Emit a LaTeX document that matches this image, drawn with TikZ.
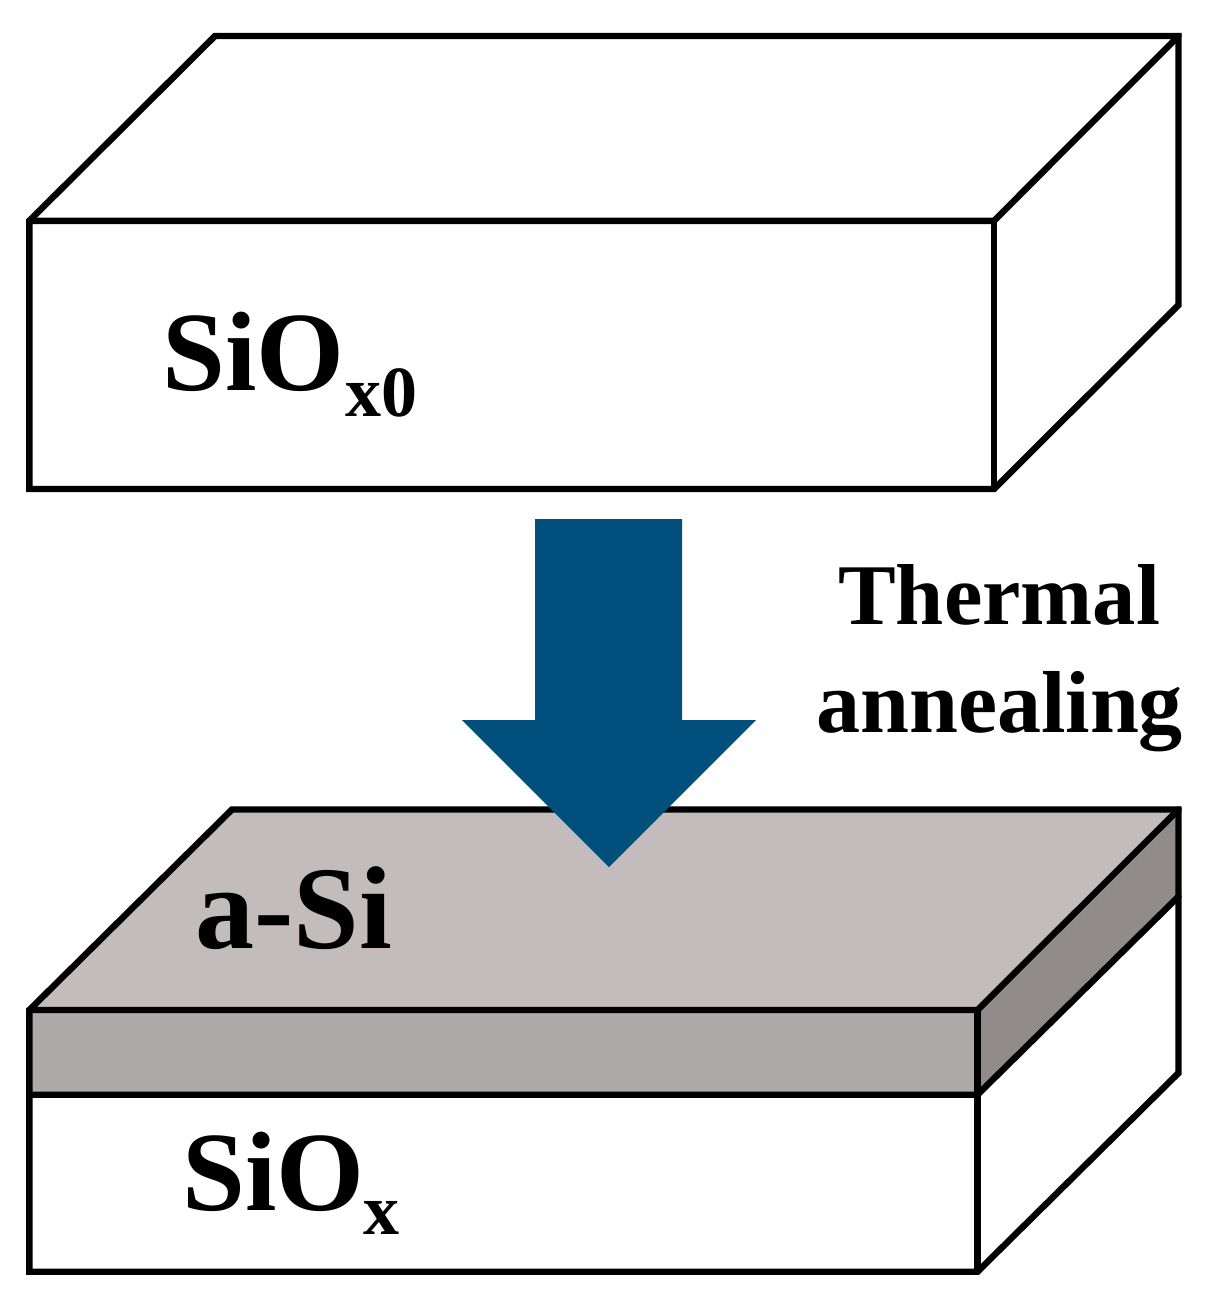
\documentclass[tikz,border=0pt]{standalone}
\usepackage{fontspec}
\setmainfont{Liberation Serif}
\begin{document}
\begin{tikzpicture}[x=1pt,y=-1pt,
  edge/.style={draw=black,line width=6.4pt,line join=miter},
  inner/.style={draw=black,line width=6.4pt,line cap=round},
  lab/.style={font=\bfseries\fontsize{#1}{#1}\selectfont,inner sep=0pt,anchor=base west}]
\useasboundingbox[fill=white] (0,0) rectangle (1222,1306);
% top block
\draw[edge,fill=white] (29.3,220.8) -- (215,36) -- (1178.5,36) -- (1178.5,305) -- (994,489) -- (29.3,489) -- cycle;
\draw[inner] (29.3,220.8) -- (994,220.8) -- (1178.5,36);
\draw[inner] (994,220.8) -- (994,489);
% a-Si faces
\fill[fill={rgb,255:red,194;green,188;blue,188}] (29.3,1010) -- (232,809.5) -- (1178.5,809.5) -- (977.5,1010) -- cycle;
\fill[fill={rgb,255:red,175;green,170;blue,170}] (29.3,1010) -- (977.5,1010) -- (977.5,1094.7) -- (29.3,1094.7) -- cycle;
\fill[fill={rgb,255:red,145;green,139;blue,139}] (977.5,1010) -- (1178.5,809.5) -- (1178.5,896.5) -- (977.5,1094.7) -- cycle;
% outline and inner edges
\draw[edge] (29.3,1010) -- (232,809.5) -- (1178.5,809.5) -- (1178.5,1073) -- (977.5,1271.7) -- (29.3,1271.7) -- cycle;
\draw[inner] (29.3,1010) -- (977.5,1010) -- (1178.5,809.5);
\draw[inner] (29.3,1094.7) -- (977.5,1094.7) -- (1178.5,896.5);
\draw[inner] (977.5,1010) -- (977.5,1271.7);
% arrow
\fill[fill={rgb,255:red,0;green,79;blue,124}] (535,519) -- (682,519) -- (682,720) -- (756,720) -- (609,867) -- (462,720) -- (535,720) -- cycle;
% labels
\node[lab=113] (s0) at (162,390.5) {SiO};
\node[lab=72] (s0s) at (345,416) {x0};
\node[lab=118] (asi) at (195,948) {a-Si};
\node[lab=113] (s1) at (182,1210) {SiO};
\node[lab=72] (s1s) at (363,1234) {x};
\node[lab=86.5] (t1) at (838,624) {Thermal};
\node[lab=88] (t2) at (816,732) {annealing};
\end{tikzpicture}
\end{document}
